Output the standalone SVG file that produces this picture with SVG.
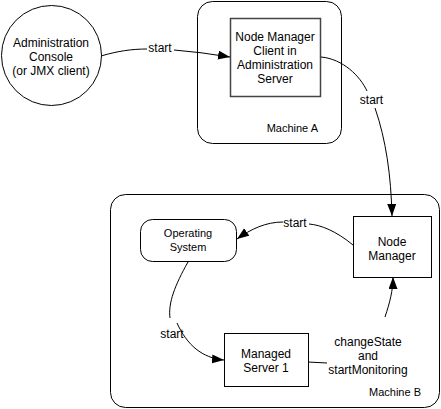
<svg xmlns="http://www.w3.org/2000/svg" width="441" height="409" viewBox="0 0 441 409">
<defs>
<style>
.t{font-family:"Liberation Sans",Arial,sans-serif;font-size:12px;fill:#000;text-anchor:middle}
.s{font-size:11px}
.r{text-anchor:end}
.box{fill:#fff;stroke:#000;stroke-width:1}
.c{fill:none;stroke:#000;stroke-width:1}
</style>
<marker id="ah" markerUnits="userSpaceOnUse" markerWidth="13" markerHeight="10" refX="12" refY="4.5" orient="auto">
<path d="M0,0 L12,4.5 L0,9 z" fill="#000"/>
</marker>
</defs>
<rect width="441" height="409" fill="#fff"/>
<g id="machineA">
<rect class="box" x="197.5" y="1.5" width="144" height="142" rx="15"/>
<text class="t s r" x="318" y="131.5">Machine A</text>
</g>
<g id="machineB">
<rect class="box" x="110.5" y="194.5" width="329" height="213" rx="15"/>
<text class="t s r" x="421" y="396">Machine B</text>
</g>
<g id="console">
<circle class="box" cx="51.5" cy="55.5" r="50"/>
<text class="t" x="51" y="46.5">Administration</text>
<text class="t" x="51" y="60.5">Console</text>
<text class="t" x="51" y="74.5">(or JMX client)</text>
</g>
<g id="nmclient">
<rect x="230.5" y="18.5" width="90" height="78" fill="#fff" stroke="#444" stroke-width="1.5"/>
<text class="t" x="275" y="40.5">Node Manager</text>
<text class="t" x="275" y="54.5">Client in</text>
<text class="t" x="275" y="68.5">Administration</text>
<text class="t" x="275" y="82.5">Server</text>
</g>
<g id="nodemanager">
<rect class="box" x="353.5" y="216.5" width="78" height="61"/>
<text class="t" x="392" y="246">Node</text>
<text class="t" x="392" y="259.5">Manager</text>
</g>
<g id="os">
<rect class="box" x="140.5" y="219.5" width="96" height="42" rx="12"/>
<text class="t s" x="188" y="237">Operating</text>
<text class="t s" x="188" y="250.5">System</text>
</g>
<g id="managed">
<rect class="box" x="224.5" y="333.5" width="84" height="53"/>
<text class="t" x="266" y="358">Managed</text>
<text class="t" x="266" y="371.5">Server 1</text>
</g>
<g id="connectors">
<path class="c" d="M101,56 C118,51 132,49 147,49"/>
<path class="c" d="M174,50 Q200,52 230,57" marker-end="url(#ah)"/>
<text class="t" x="160" y="52">start</text>
<path class="c" d="M321,57 C343,59 360,76 367,91"/>
<path class="c" d="M375,108 C386,140 391,175 392,216" marker-end="url(#ah)"/>
<text class="t" x="371.5" y="103.5">start</text>
<path class="c" d="M353,245 C336,231 321,225 309,224"/>
<path class="c" d="M283,222 C266,222 251,229 237,239" marker-end="url(#ah)"/>
<text class="t" x="295" y="226.5">start</text>
<path class="c" d="M188,262 C175,285 168,303 170,318"/>
<path class="c" d="M177,323 C187,345 202,358 224,360" marker-end="url(#ah)"/>
<text class="t" x="172" y="337.5">start</text>
<path class="c" d="M308,362 L327,363"/>
<path class="c" d="M385,317 C390,302 393,290 393,277" marker-end="url(#ah)"/>
<text class="t" x="368" y="346">changeState</text>
<text class="t" x="368" y="360">and</text>
<text class="t" x="368" y="374">startMonitoring</text>
</g>
</svg>
